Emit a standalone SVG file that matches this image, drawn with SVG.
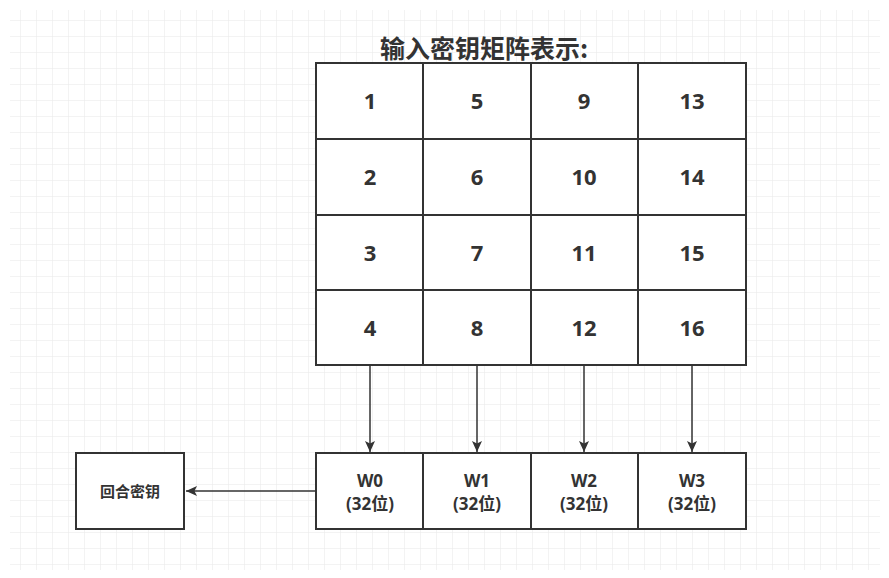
<svg xmlns="http://www.w3.org/2000/svg" width="889" height="578" viewBox="0 0 889 578">
<defs>
<pattern id="grid" width="16" height="16" patternUnits="userSpaceOnUse" x="4" y="4">
<path d="M16 0H0V16" fill="none" stroke="#e8e8e8" stroke-width="1"/>
</pattern>
<marker id="arr" markerWidth="12" markerHeight="12" refX="11" refY="6" orient="auto" markerUnits="userSpaceOnUse">
<path d="M0,1 L11,6 L0,11 L2.5,6 Z" fill="#333"/>
</marker>
</defs>
<style>
.c{fill:#fff;stroke:#333;stroke-width:2}
.n{font-family:"Open Sans","Liberation Sans",sans-serif;font-weight:bold;font-size:22px;fill:#333;text-anchor:middle}
.w{font-family:"Open Sans","Liberation Sans","Noto Sans CJK SC",sans-serif;font-weight:bold;font-size:17px;fill:#333;text-anchor:middle}
.l{stroke:#333;stroke-width:1.5;fill:none;marker-end:url(#arr)}
</style>
<rect width="889" height="578" fill="#fff"/>
<rect x="10" y="10" width="870" height="560" fill="url(#grid)"/>
<text x="484" y="58" class="w" style="font-size:25px;font-family:'Noto Sans CJK SC',sans-serif">输入密钥矩阵表示:</text>
<g id="matrix">
<g id="c1"><rect class="c" x="316" y="63" width="107" height="76"/><text class="n" x="370" y="109">1</text></g>
<g id="c5"><rect class="c" x="423" y="63" width="108" height="76"/><text class="n" x="477" y="109">5</text></g>
<g id="c9"><rect class="c" x="531" y="63" width="107" height="76"/><text class="n" x="584" y="109">9</text></g>
<g id="c13"><rect class="c" x="638" y="63" width="108" height="76"/><text class="n" x="692" y="109">13</text></g>
<g id="c2"><rect class="c" x="316" y="139" width="107" height="76"/><text class="n" x="370" y="185">2</text></g>
<g id="c6"><rect class="c" x="423" y="139" width="108" height="76"/><text class="n" x="477" y="185">6</text></g>
<g id="c10"><rect class="c" x="531" y="139" width="107" height="76"/><text class="n" x="584" y="185">10</text></g>
<g id="c14"><rect class="c" x="638" y="139" width="108" height="76"/><text class="n" x="692" y="185">14</text></g>
<g id="c3"><rect class="c" x="316" y="215" width="107" height="75"/><text class="n" x="370" y="261">3</text></g>
<g id="c7"><rect class="c" x="423" y="215" width="108" height="75"/><text class="n" x="477" y="261">7</text></g>
<g id="c11"><rect class="c" x="531" y="215" width="107" height="75"/><text class="n" x="584" y="261">11</text></g>
<g id="c15"><rect class="c" x="638" y="215" width="108" height="75"/><text class="n" x="692" y="261">15</text></g>
<g id="c4"><rect class="c" x="316" y="290" width="107" height="75"/><text class="n" x="370" y="336">4</text></g>
<g id="c8"><rect class="c" x="423" y="290" width="108" height="75"/><text class="n" x="477" y="336">8</text></g>
<g id="c12"><rect class="c" x="531" y="290" width="107" height="75"/><text class="n" x="584" y="336">12</text></g>
<g id="c16"><rect class="c" x="638" y="290" width="108" height="75"/><text class="n" x="692" y="336">16</text></g>
</g>
<g id="words">
<g id="w0"><rect class="c" x="316" y="453" width="107" height="76"/><text class="w" x="370" y="487">W0</text><text class="w" x="370" y="510">(32位)</text></g>
<g id="w1"><rect class="c" x="423" y="453" width="108" height="76"/><text class="w" x="477" y="487">W1</text><text class="w" x="477" y="510">(32位)</text></g>
<g id="w2"><rect class="c" x="531" y="453" width="107" height="76"/><text class="w" x="584" y="487">W2</text><text class="w" x="584" y="510">(32位)</text></g>
<g id="w3"><rect class="c" x="638" y="453" width="108" height="76"/><text class="w" x="692" y="487">W3</text><text class="w" x="692" y="510">(32位)</text></g>
</g>
<g id="roundkey"><rect class="c" x="76" y="453" width="108" height="76"/><text class="w" x="130" y="497" style="font-size:15px">回合密钥</text></g>
<g id="connectors">
<path class="l" d="M370 365V452"/>
<path class="l" d="M477 365V452"/>
<path class="l" d="M584 365V452"/>
<path class="l" d="M692 365V452"/>
<path class="l" d="M316 491H186"/>
</g>
</svg>
